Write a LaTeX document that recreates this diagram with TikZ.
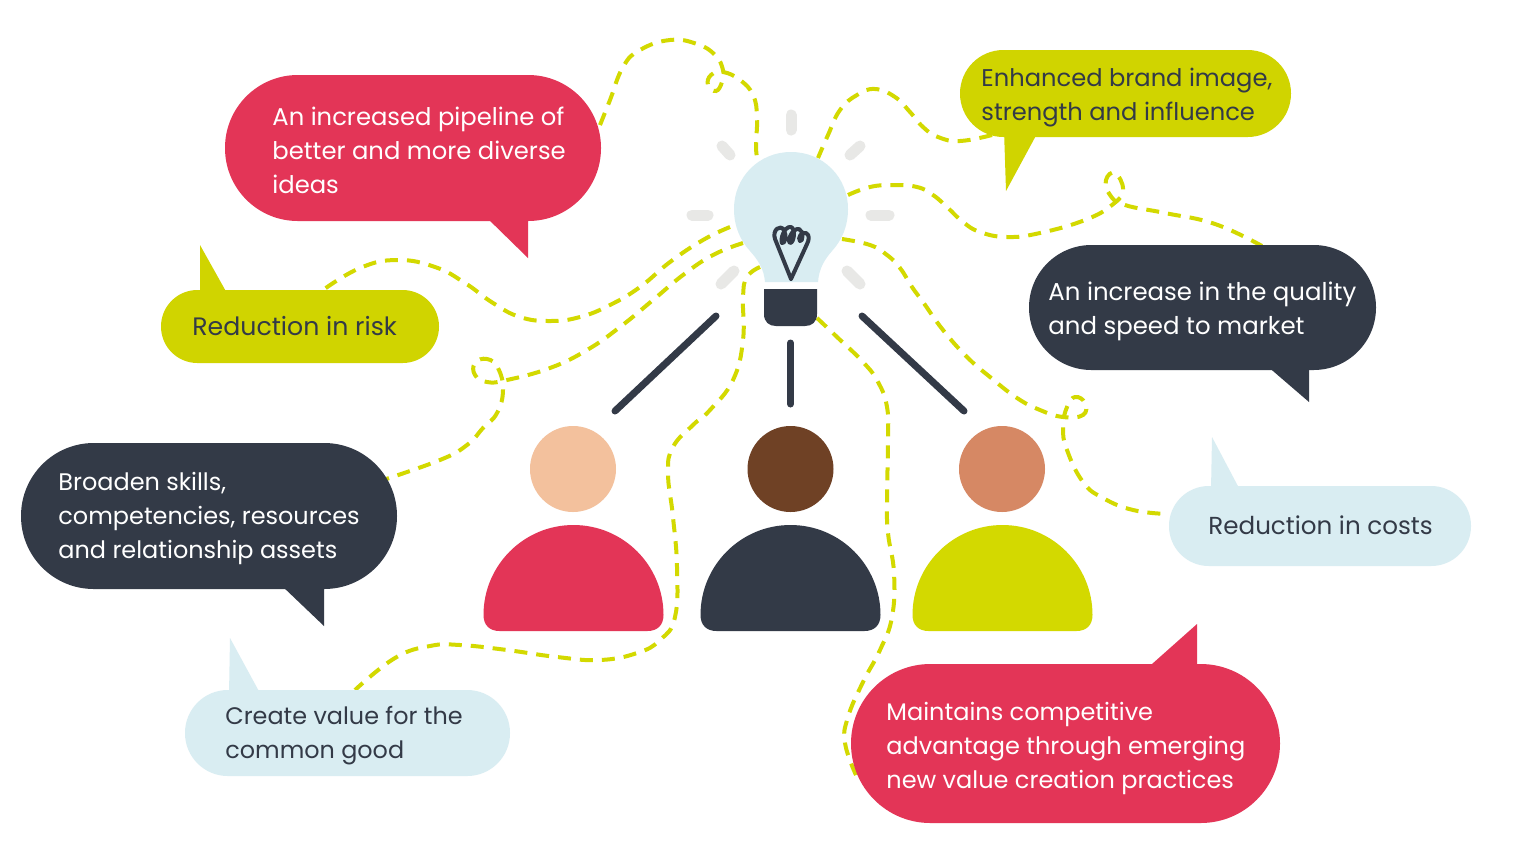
\documentclass[tikz,border=0pt]{standalone}
\usepackage{fontspec}
\setmainfont{Poppins}
\definecolor{cred}{HTML}{E33557}
\definecolor{cdark}{HTML}{333A47}
\definecolor{clime}{HTML}{D3D900}
\definecolor{cblime}{HTML}{D0D400}
\definecolor{cblue}{HTML}{D9EDF2}
\definecolor{cray}{HTML}{E8E8E6}
\definecolor{skinA}{HTML}{F3C19D}
\definecolor{skinB}{HTML}{6F4125}
\definecolor{skinC}{HTML}{D68864}
\tikzset{
  bubble/.style={inner sep=0pt,outer sep=0pt},
  label text/.style={anchor=west,align=left,inner sep=0pt,font=\fontsize{#1}{17}\selectfont},
  dashline/.style={draw=clime,line width=2pt,dash pattern=on 6.5pt off 4.5pt},
  ray/.style={draw=cray,line width=5.5pt,line cap=round},
  spoke/.style={draw=cdark,line width=3.5pt,line cap=round},
}
\newcommand{\bodyshape}[2]{%
  \fill[#2] (#1-90,615) arc (180:360:90) .. controls (#1+90,625) and (#1+84,631) .. (#1+74,631)
    -- (#1-74,631) .. controls (#1-84,631) and (#1-90,625) .. (#1-90,615) -- cycle;}
\begin{document}
\begin{tikzpicture}[x=0.5pt,y=-0.5pt]
\useasboundingbox[fill=white] (0,0) rectangle (1536,853);
% dashed connector ends
\coordinate (aS) at (600,125); \coordinate (aE) at (758,162);
\coordinate (bS) at (992,135); \coordinate (bE) at (818,158);
\coordinate (cS) at (848,195); \coordinate (cE) at (1262,246);
\coordinate (dS) at (842,239); \coordinate (dE) at (1167,514);
\coordinate (eS) at (817,318); \coordinate (eE) at (856,775);
\coordinate (fS) at (730,227); \coordinate (fE) at (323,290);
\coordinate (gS) at (743,243); \coordinate (gE) at (380,481);
\coordinate (hS) at (760,267); \coordinate (hE) at (355,690);
% dashed connectors
\draw[dashline] plot[smooth,tension=0.75] coordinates {(aS) (610,100) (623,67) (640,50) (670,40) (697,44) (715,55) (723,70) (722,82) (716,91) (708,85) (711,75) (723,72) (740,80) (753,95) (757,117) (756,147) (aE)};
\draw[dashline] plot[smooth,tension=0.75] coordinates {(bS) (960,141) (938,137) (923,127) (910,112) (895,97) (875,89) (857,95) (840,110) (828,135) (bE)};
\draw[dashline] plot[smooth,tension=0.75] coordinates {(cS) (870,187) (893,185) (917,187) (933,195) (948,208) (963,222) (980,232) (1007,237) (1040,233) (1085,220) (1112,205) (1123,190) (1115,173) (1106,180) (1110,195) (1125,205) (1165,213) (1215,224) (cE)};
\draw[dashline] plot[smooth,tension=0.75] coordinates {(dS) (870,245) (887,255) (900,268) (912,287) (923,302) (943,330) (967,357) (990,377) (1017,398) (1040,410) (1063,417) (1083,415) (1085,403) (1075,397) (1067,407) (1063,427) (1067,450) (1083,482) (1103,498) (1133,510) (dE)};
\draw[dashline] plot[smooth,tension=0.75] coordinates {(eS) (837,337) (863,362) (878,382) (887,407) (888,440) (887,500) (888,533) (894,573) (892,617) (880,650) (863,682) (848,717) (845,743) (eE)};
\draw[dashline] plot[smooth,tension=0.75] coordinates {(fS) (703,240) (670,262) (640,287) (610,305) (580,317) (550,321) (520,317) (493,303) (465,283) (435,267) (397,260) (360,268) (fE)};
\draw[dashline] plot[smooth,tension=0.75] coordinates {(gS) (713,255) (683,275) (653,300) (620,327) (587,350) (550,368) (507,380) (487,382) (475,375) (475,363) (487,359) (498,368) (503,390) (497,413) (483,428) (467,445) (440,460) (gE)};
\draw[dashline] plot[smooth,tension=0.75] coordinates {(hS) (747,277) (743,297) (743,340) (733,380) (710,410) (693,425) (673,447) (668,473) (673,517) (677,567) (675,617) (660,640) (637,653) (600,660) (557,657) (507,650) (460,645) (430,646) (395,658) (hE)};
% bubbles
\fill[cred] (484,215) -- (528,258) -- (528,215) -- cycle;
\node[bubble,fill=cred,rounded corners=36.4pt,minimum width=188pt,minimum height=73pt] (b1) at (413,148) {};
\node[label text=12.13,text=white] (t1) at (272,150) {An increased pipeline of\\better and more diverse\\ideas};
\fill[cblime] (1039,130) -- (1006,191) -- (1004,130) -- cycle;
\node[bubble,fill=cblime,rounded corners=21.7pt,minimum width=165.5pt,minimum height=43.5pt] (b2) at (1125.5,93.5) {};
\node[label text=12.09,text=cdark] (t2) at (981,97.5) {Enhanced brand image,\\strength and influence};
\fill[cblime] (228,295) -- (200,245) -- (200,295) -- cycle;
\node[bubble,fill=cblime,rounded corners=18.2pt,minimum width=139pt,minimum height=36.5pt] (b3) at (300,326.5) {};
\node[label text=12.6,text=cdark] (t3) at (192,326) {Reduction in risk};
\fill[cdark] (1266,365) -- (1309,402) -- (1309,365) -- cycle;
\node[bubble,fill=cdark,rounded corners=31.2pt,minimum width=173.5pt,minimum height=62.5pt] (b4) at (1202.5,307.5) {};
\node[label text=12.21,text=white] (t4) at (1048,311) {An increase in the quality\\and speed to market};
\fill[cdark] (281,585) -- (324,626) -- (324,585) -- cycle;
\node[bubble,fill=cdark,rounded corners=36.4pt,minimum width=188pt,minimum height=73pt] (b5) at (209,516) {};
\node[label text=11.98,text=white] (t5) at (58,518) {Broaden skills,\\competencies, resources\\and relationship assets};
\fill[cblue] (1240,490) -- (1212,437) -- (1211,490) -- cycle;
\node[bubble,fill=cblue,rounded corners=19.9pt,minimum width=151pt,minimum height=40pt] (b6) at (1320,526) {};
\node[label text=12.3,text=cdark] (t6) at (1208,525) {Reduction in costs};
\fill[cblue] (261,695) -- (230,638) -- (229,695) -- cycle;
\node[bubble,fill=cblue,rounded corners=21.4pt,minimum width=162.5pt,minimum height=43pt] (b7) at (347.5,733) {};
\node[label text=11.94,text=cdark] (t7) at (225,736) {Create value for the\\common good};
\fill[cred] (1147.5,668) -- (1197,624) -- (1197,668) -- cycle;
\node[bubble,fill=cred,rounded corners=39.7pt,minimum width=214.5pt,minimum height=79.5pt] (b8) at (1065.5,743.5) {};
\node[label text=12.0,text=white] (t8) at (886,748) {Maintains competitive\\advantage through emerging\\new value creation practices};
% rays
\draw[ray] (791,115) -- (791,130);
\draw[ray] (722,146) -- (730,155);
\draw[ray] (860,146) -- (850,155);
\draw[ray] (692,215) -- (708,215);
\draw[ray] (871,215) -- (889,215);
\draw[ray] (734,271) -- (721,284);
\draw[ray] (847,271) -- (860,284);
% bulb
\fill[cblue] (765,282) .. controls (764,268) and (757,259) .. (750,251)
  .. controls (740,240) and (734,226) .. (734,209)
  .. controls (734,177) and (759,152) .. (791,152)
  .. controls (823,152) and (848,177) .. (848,209)
  .. controls (848,226) and (842,240) .. (832,251)
  .. controls (825,259) and (819,268) .. (818,282) -- cycle;
\draw[cdark,line width=2pt,line join=round,line cap=round] (791,279) -- (775,239) .. controls (772,230) and (780,224) .. (784,230) .. controls (787,236) and (785,244) .. (782,243) .. controls (780,240) and (784,226) .. (791,227) .. controls (796,229) and (794,243) .. (790,243) .. controls (787,241) and (792,228) .. (799,229) .. controls (804,231) and (803,242) .. (800,241) .. controls (797,238) and (802,231) .. (806,233) .. controls (810,235) and (809,240) .. (807,244) -- (791,279);
% base
\fill[cdark] (764,289) -- (817,289) -- (817,314) .. controls (817,322) and (812,326) .. (805,326) -- (776,326) .. controls (769,326) and (764,322) .. (764,314) -- cycle;
% spokes
\draw[spoke] (716,316) -- (615,411);
\draw[spoke] (790.5,343) -- (790.5,404);
\draw[spoke] (862,316) -- (964,411);
% people
\fill[skinA] (573,469) circle (43);
\fill[skinB] (790.5,469) circle (43);
\fill[skinC] (1002,469) circle (43);
\bodyshape{573.5}{cred}
\bodyshape{790.5}{cdark}
\bodyshape{1002.5}{clime}
\end{tikzpicture}
\end{document}
